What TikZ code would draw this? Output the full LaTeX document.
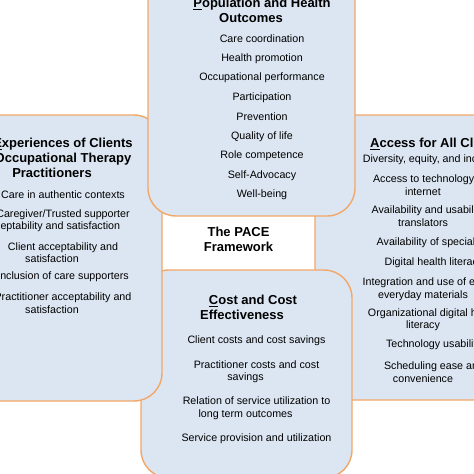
\documentclass[tikz,border=0pt]{standalone}
\usepackage{fontspec}
\setmainfont{Liberation Sans}
\definecolor{panelfill}{HTML}{DCE6F2}
\definecolor{paneledge}{HTML}{F2A767}
% later lines of a wrapped item sit a little to the left
\newcommand{\cont}[1]{#1\hspace*{22pt}}

\begin{document}
\begin{tikzpicture}[
  x=1pt, y=-1pt,
  panel/.style={draw=paneledge, fill=panelfill, line width=1.4pt, rounded corners=28pt},
  ttl/.style={font=\fontsize{13}{15}\selectfont\bfseries, align=center, inner sep=0pt},
  itm/.style={font=\fontsize{10.7}{12.5}\selectfont, align=center, inner sep=0pt},
]
\useasboundingbox (0,0) rectangle (474,474);
\clip (0,0) rectangle (474,474);
% Panels, back to front
\draw[panel] (315,115) rectangle (540,400);
\draw[panel] (141,270) rectangle (352,478);
\draw[panel] (-70,115) rectangle (162,401);
\draw[panel] (148,-40) rectangle (355,216);
% Centre
\node[ttl] (pace) at (238.5,239) {The PACE\\Framework};
% Population and Health Outcomes
\node[ttl] (ptitle) at (262,10.5) {\underline{P}opulation and Health\\\cont{Outcomes}};
\foreach \t [count=\i] in {Care coordination, Health promotion, Occupational performance,
    Participation, Prevention, Quality of life, Role competence, Self-Advocacy, Well-being}
  \node[itm] (p\i) at (262,19.5+19.5*\i) {\t};
% Access for All Clients
\node[ttl] (atitle) at (437,144) {\underline{A}ccess for All Clients};
\foreach \y/\t [count=\i] in {
    160/{Diversity, equity, and inclusion},
    185/{Access to technology and\\\cont{internet}},
    216/{Availability and usability of\\\cont{translators}},
    243/{Availability of specialists},
    263/{Digital health literacy},
    289/{Integration and use of existing\\\cont{everyday materials}},
    319.5/{Organizational digital health\\\cont{literacy}},
    345/{Technology usability},
    372/{Scheduling ease and\\\cont{convenience}}}
  \node[itm] (a\i) at (434,\y) {\t};
% Cost and Cost Effectiveness
\node[ttl] (ctitle) at (253,307.5) {\underline{C}ost and Cost\\\cont{Effectiveness}};
\foreach \y/\t [count=\i] in {
    341/{Client costs and cost savings},
    371.5/{Practitioner costs and cost\\\cont{savings}},
    408/{Relation of service utilization to\\\cont{long term outcomes}},
    439/{Service provision and utilization}}
  \node[itm] (c\i) at (256.5,\y) {\t};
% Experiences of Clients and Practitioners
\node[ttl] (etitle) at (63,158) {\underline{E}xperiences of Clients\\Occupational Therapy\\\cont{Practitioners}};
\foreach \y/\t [count=\i] in {
    195/{Care in authentic contexts},
    220.5/{Caregiver/Trusted supporter\\\cont{acceptability and satisfaction}},
    252.5/{Client acceptability and\\\cont{satisfaction}},
    277/{Inclusion of care supporters},
    303/{Practitioner acceptability and\\\cont{satisfaction}}}
  \node[itm] (e\i) at (63,\y) {\t};
\end{tikzpicture}
\end{document}
